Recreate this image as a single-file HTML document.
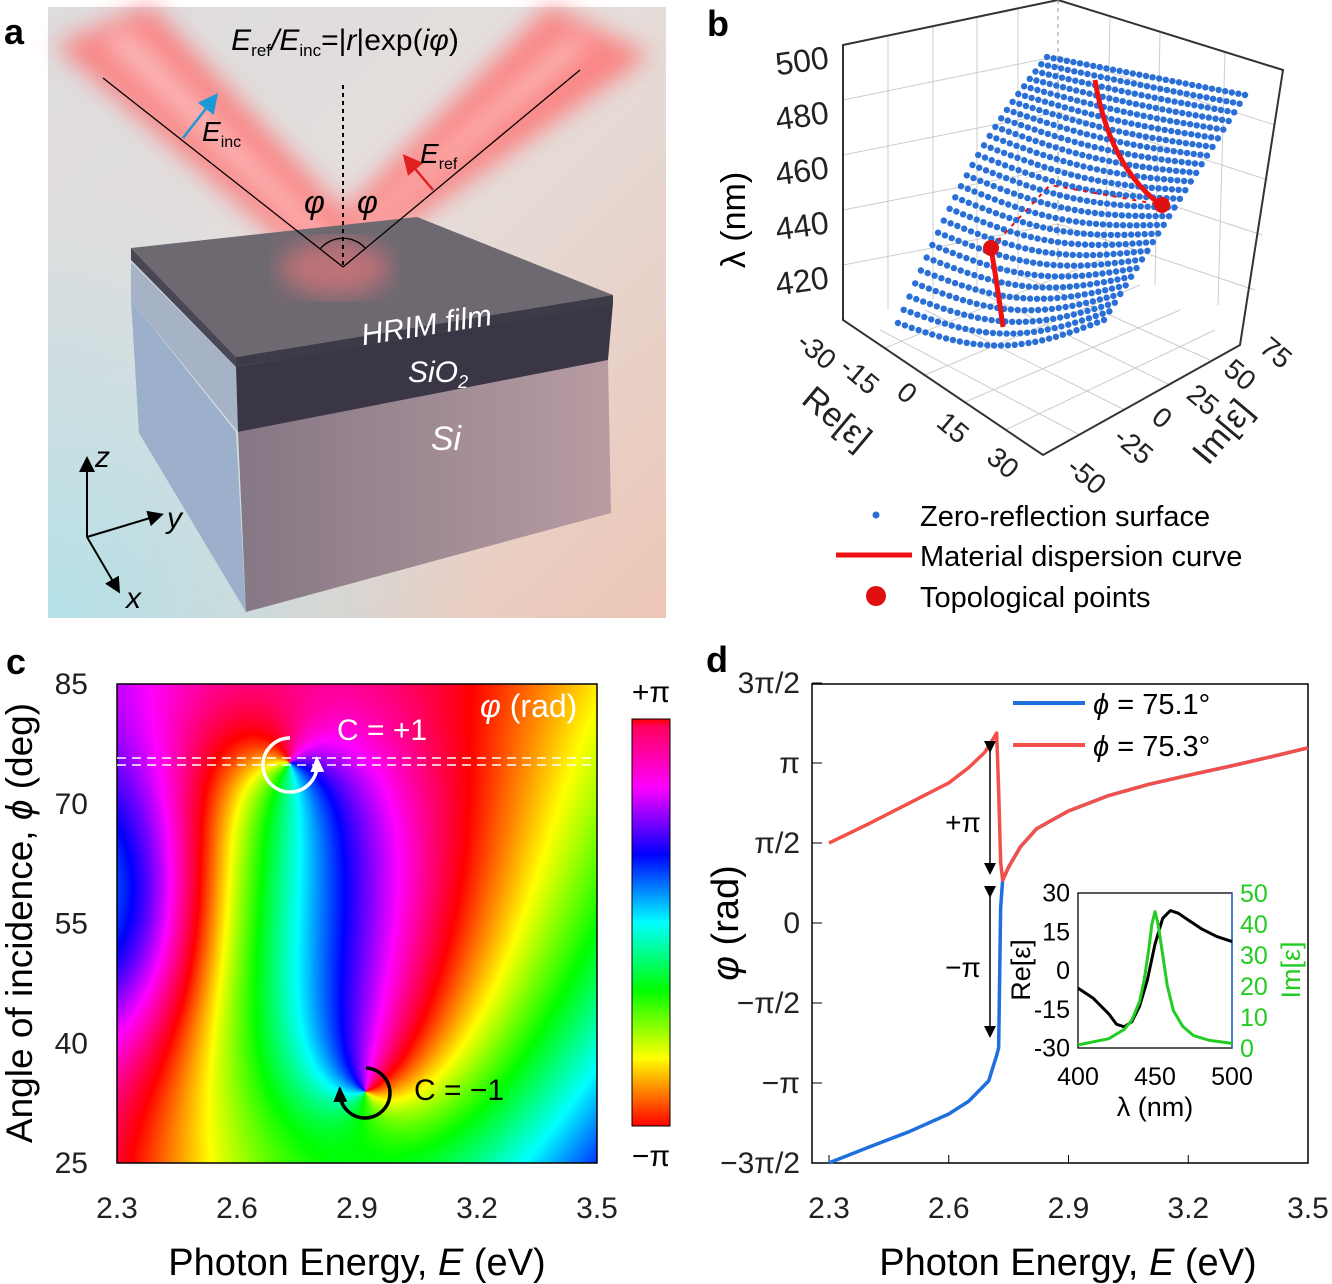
<!DOCTYPE html>
<html><head><meta charset="utf-8">
<style>
body{margin:0;background:#fff;}
#wrap{position:relative;width:1332px;height:1284px;overflow:hidden;font-family:"Liberation Sans",sans-serif;}
svg{position:absolute;left:0;top:0;}
#heat{position:absolute;left:117px;top:684px;}
</style></head><body>
<div id="wrap">
<canvas id="heat" width="480" height="479"></canvas>
<svg id="main" width="1332" height="1284" xmlns="http://www.w3.org/2000/svg">
<defs>
 <linearGradient id="bgA" x1="0" y1="0" x2="1" y2="1">
  <stop offset="0" stop-color="#dedcde"/><stop offset="0.45" stop-color="#e4dedc"/><stop offset="1" stop-color="#ecc6b6"/>
 </linearGradient>
 <radialGradient id="bgL" cx="0" cy="1" r="0.7"><stop offset="0" stop-color="#b4e0e8"/><stop offset="1" stop-color="#b4e0e8" stop-opacity="0"/></radialGradient>
 <filter id="blur"><feGaussianBlur stdDeviation="12"/></filter>
 <linearGradient id="cbar" x1="0" y1="0" x2="0" y2="1">
  <stop offset="0" stop-color="#ff0000"/><stop offset="0.02" stop-color="#ff0060"/><stop offset="0.167" stop-color="#ff00ff"/><stop offset="0.333" stop-color="#0000ff"/><stop offset="0.5" stop-color="#00ffff"/><stop offset="0.667" stop-color="#00ff00"/><stop offset="0.833" stop-color="#ffff00"/><stop offset="1" stop-color="#ff0000"/>
 </linearGradient>
 <linearGradient id="siF" x1="0" y1="0" x2="1" y2="0"><stop offset="0" stop-color="#857784"/><stop offset="1" stop-color="#b89ca2"/></linearGradient>
 <marker id="ah" markerWidth="8" markerHeight="8" refX="6" refY="4" orient="auto"><path d="M0,0 L8,4 L0,8 z" fill="#000"/></marker>
 <marker id="ahb" markerWidth="8" markerHeight="8" refX="6" refY="4" orient="auto"><path d="M0,0 L8,4 L0,8 z" fill="#1a9ad6"/></marker>
 <marker id="ahr" markerWidth="8" markerHeight="8" refX="6" refY="4" orient="auto"><path d="M0,0 L8,4 L0,8 z" fill="#e02020"/></marker>
 <marker id="ahk" markerUnits="userSpaceOnUse" markerWidth="16" markerHeight="16" refX="8" refY="8" orient="auto"><path d="M0,1 L16,8 L0,15 z" fill="#000"/></marker>
 <marker id="ahw" markerUnits="userSpaceOnUse" markerWidth="16" markerHeight="16" refX="8" refY="8" orient="auto"><path d="M0,1 L16,8 L0,15 z" fill="#fff"/></marker>
</defs>

<!-- Panel a -->
<g>
 <rect x="48" y="7" width="618" height="611" fill="url(#bgA)"/>
 <rect x="48" y="7" width="618" height="611" fill="url(#bgL)"/>
 <g filter="url(#blur)" opacity="0.8">
  <path d="M55,45 L150,5 L365,235 L325,278 Z" fill="#ff6e6e"/>
  <path d="M330,278 L318,238 L550,5 L650,55 Z" fill="#ff6e6e"/>
 </g>
 <g filter="url(#blur)" opacity="0.45">
  <path d="M100,40 L130,30 L345,250 L335,262 Z" fill="#fff"/>
  <path d="M345,250 L340,240 L570,35 L590,45 Z" fill="#fff"/>
 </g>
 <polygon points="131,300 236,432 246,612 139,433" fill="#9cb0cc"/>
 <polygon points="131,262 236,367 238,432 131,300" fill="#a6b2c6"/>
 <polygon points="238,432 608,360 611,513 246,612" fill="url(#siF)"/>
 <polygon points="236,367 613,303 608,360 238,432" fill="#3a3646"/>
 <polygon points="131,248 417,217 613,295 236,357" fill="#6e6870"/>
 <polygon points="131,248 236,357 236,367 131,260" fill="#4a4754"/>
 <polygon points="236,357 613,295 613,305 236,367" fill="#3e3b48"/>
 <ellipse cx="335" cy="268" rx="55" ry="28" fill="#ff7a80" opacity="0.55" filter="url(#blur)"/>
 <line x1="103" y1="78" x2="343" y2="267" stroke="#000" stroke-width="1.3"/>
 <line x1="343" y1="267" x2="580" y2="70" stroke="#000" stroke-width="1.3"/>
 <line x1="343" y1="85" x2="343" y2="267" stroke="#000" stroke-width="2" stroke-dasharray="4,4"/>
 <path d="M320,249 A30,30 0 0 1 366,249" fill="none" stroke="#000" stroke-width="1.3"/>
 <line x1="183" y1="138" x2="215" y2="97" stroke="#1a9ad6" stroke-width="2.5" marker-end="url(#ahb)"/>
 <line x1="433" y1="190" x2="406" y2="158" stroke="#e02020" stroke-width="2.5" marker-end="url(#ahr)"/>
 <text x="345" y="50" font-size="30" text-anchor="middle" font-style="italic">E<tspan font-size="17" font-style="normal" dy="6">ref</tspan><tspan dy="-6">/E</tspan><tspan font-size="17" font-style="normal" dy="6">inc</tspan><tspan dy="-6" font-style="normal">=|</tspan>r<tspan font-style="normal">|exp(</tspan>iφ<tspan font-style="normal">)</tspan></text>
 <text x="202" y="141" font-size="28" font-style="italic">E<tspan font-size="16" font-style="normal" dy="6">inc</tspan></text>
 <text x="420" y="163" font-size="28" font-style="italic">E<tspan font-size="16" font-style="normal" dy="6">ref</tspan></text>
 <text x="304" y="213" font-size="32" font-style="italic">φ</text>
 <text x="357" y="213" font-size="32" font-style="italic">φ</text>
 <text x="428" y="335" font-size="30" fill="#fff" font-style="italic" text-anchor="middle" transform="rotate(-9 428 335)">HRIM film</text>
 <text x="438" y="382" font-size="30" fill="#fff" font-style="italic" text-anchor="middle">SiO<tspan font-size="18" dy="6">2</tspan></text>
 <text x="446" y="450" font-size="34" fill="#fff" font-style="italic" text-anchor="middle">Si</text>
 <line x1="87" y1="537" x2="87" y2="460" stroke="#000" stroke-width="2" marker-end="url(#ah)"/>
 <line x1="87" y1="537" x2="160" y2="515" stroke="#000" stroke-width="2" marker-end="url(#ah)"/>
 <line x1="87" y1="537" x2="118" y2="590" stroke="#000" stroke-width="2" marker-end="url(#ah)"/>
 <text x="95" y="467" font-size="30" font-style="italic">z</text>
 <text x="167" y="528" font-size="30" font-style="italic">y</text>
 <text x="126" y="608" font-size="30" font-style="italic">x</text>
 <text x="4" y="44" font-size="36" font-weight="bold">a</text>
</g>

<!-- Panel b -->
<g id="pb">
 <text x="707" y="36" font-size="36" font-weight="bold">b</text>
 <g stroke="#ccc" stroke-width="1" fill="none">
  <path d="M843,100 L1058,56 M843,155 L1058,112 M843,210 L1058,168 M843,265 L1058,224"/>
  <path d="M888,36 L888,310 M933,27 L933,300 M977,18 L977,290 M1018,9 L1018,280"/>
  <path d="M1058,56 L1275,125 M1058,112 L1268,180 M1058,168 L1262,235 M1058,224 L1255,290"/>
  <path d="M1110,17 L1105,270 M1160,33 L1155,285 M1225,52 L1218,305"/>
  <path d="M885,348 L1100,260 M925,375 L1140,285 M965,402 L1180,310 M1005,430 L1215,330"/>
  <path d="M1080,435 L880,330 M1125,410 L925,310 M1170,385 L975,290 M1210,360 L1020,275"/>
 </g>
 <g stroke="#333" stroke-width="2" fill="none">
  <path d="M843,45 L1058,0 L1283,70 L1240,345 L1043,455 L843,320 Z"/>
  <path d="M843,45 L843,320"/>
  <path d="M1058,0 L1058,270" stroke="#999" stroke-width="1" stroke-dasharray="4,4"/>
 </g>
 <g id="dots"></g>
 <path d="M991,248 Q998,290 1003,327" stroke="#ee1111" stroke-width="5" fill="none"/>
 <path d="M1095,80 Q1110,170 1165,208" stroke="#ee1111" stroke-width="5" fill="none"/>
 <path d="M991,248 L1050,185 L1162,205" stroke="#ee1111" stroke-width="2" fill="none" stroke-dasharray="4,6"/>
 <circle cx="991" cy="248" r="8" fill="#e01010"/>
 <circle cx="1162" cy="205" r="8" fill="#e01010"/>
 <g font-size="32" fill="#222">
  <text x="830" y="68" text-anchor="end" transform="rotate(-8 830 68)">500</text>
  <text x="830" y="123" text-anchor="end" transform="rotate(-8 830 123)">480</text>
  <text x="830" y="178" text-anchor="end" transform="rotate(-8 830 178)">460</text>
  <text x="830" y="233" text-anchor="end" transform="rotate(-8 830 233)">440</text>
  <text x="830" y="288" text-anchor="end" transform="rotate(-8 830 288)">420</text>
 </g>
 <text x="745" y="220" font-size="34" text-anchor="middle" transform="rotate(-90 745 220)">λ (nm)</text>
 <g font-size="28" fill="#222">
  <text x="795" y="345" transform="rotate(40 795 345)">-30</text>
  <text x="838" y="370" transform="rotate(40 838 370)">-15</text>
  <text x="895" y="395" transform="rotate(40 895 395)">0</text>
  <text x="935" y="425" transform="rotate(40 935 425)">15</text>
  <text x="985" y="460" transform="rotate(40 985 460)">30</text>
  <text x="800" y="402" font-size="34" transform="rotate(40 800 402)">Re[ε]</text>
  <text x="1065" y="470" transform="rotate(40 1065 470)">-50</text>
  <text x="1112" y="440" transform="rotate(40 1112 440)">-25</text>
  <text x="1150" y="420" transform="rotate(40 1150 420)">0</text>
  <text x="1185" y="397" transform="rotate(40 1185 397)">25</text>
  <text x="1222" y="372" transform="rotate(40 1222 372)">50</text>
  <text x="1258" y="350" transform="rotate(40 1258 350)">75</text>
  <text x="1205" y="440" font-size="34" transform="rotate(-50 1235 450)">Im[ε]</text>
 </g>
 <g font-size="29">
  <circle cx="876" cy="515" r="3.5" fill="#2a6fd6"/>
  <text x="920" y="526">Zero-reflection surface</text>
  <line x1="836" y1="555" x2="912" y2="555" stroke="#ee1111" stroke-width="5"/>
  <text x="920" y="566">Material dispersion curve</text>
  <circle cx="876" cy="596" r="10" fill="#e01010"/>
  <text x="920" y="607">Topological points</text>
 </g>
</g>

<!-- Panel c -->
<g>
 <text x="6" y="674" font-size="36" font-weight="bold">c</text>
 <rect x="117" y="684" width="480" height="479" fill="none" stroke="#000" stroke-width="1.5"/>
 <line x1="117" y1="758" x2="597" y2="758" stroke="#fff" stroke-width="1.5" stroke-dasharray="9,6"/>
 <line x1="117" y1="765" x2="597" y2="765" stroke="#fff" stroke-width="1.5" stroke-dasharray="9,6"/>
 <path d="M290,738 A27,27 0 1 0 317,764" fill="none" stroke="#fff" stroke-width="3.5" marker-end="url(#ahw)"/>
 <path d="M366,1068 A25,25 0 1 1 340,1094" fill="none" stroke="#000" stroke-width="3.5" marker-end="url(#ahk)"/>
 <text x="337" y="740" font-size="30" fill="#fff">C = +1</text>
 <text x="414" y="1100" font-size="30" fill="#000">C = −1</text>
 <text x="480" y="717" font-size="32" fill="#fff"><tspan font-style="italic">φ</tspan> (rad)</text>
 <g id="cticks" font-size="30" fill="#222"></g>
 <text x="357" y="1275" font-size="38" text-anchor="middle">Photon Energy, <tspan font-style="italic">E</tspan> (eV)</text>
 <text x="32" y="923" font-size="37" text-anchor="middle" transform="rotate(-90 32 923)">Angle of incidence, <tspan font-style="italic">ϕ</tspan> (deg)</text>
 <rect x="632" y="719" width="38" height="407" fill="url(#cbar)" stroke="#000" stroke-width="1"/>
 <text x="651" y="702" font-size="30" text-anchor="middle">+π</text>
 <text x="651" y="1166" font-size="30" text-anchor="middle">−π</text>
</g>

<!-- Panel d -->
<g id="pd">
 <text x="706" y="672" font-size="36" font-weight="bold">d</text>
 <rect x="812" y="684" width="496" height="479" fill="none" stroke="#000" stroke-width="1.5"/>
 <g id="dticks" font-size="30" fill="#222"></g>
 <g id="dlines"></g>
 <line x1="1013" y1="703" x2="1085" y2="703" stroke="#1f6fdc" stroke-width="4"/>
 <text x="1093" y="714" font-size="29"><tspan font-style="italic">ϕ</tspan> = 75.1°</text>
 <line x1="1013" y1="745" x2="1085" y2="745" stroke="#f2504a" stroke-width="4"/>
 <text x="1093" y="756" font-size="29"><tspan font-style="italic">ϕ</tspan> = 75.3°</text>
 <line x1="990" y1="750" x2="990" y2="872" stroke="#000" stroke-width="1.5" marker-start="url(#ah)" marker-end="url(#ah)"/>
 <line x1="990" y1="895" x2="990" y2="1035" stroke="#000" stroke-width="1.5" marker-start="url(#ah)" marker-end="url(#ah)"/>
 <text x="963" y="832" font-size="28" text-anchor="middle">+π</text>
 <text x="963" y="977" font-size="28" text-anchor="middle">−π</text>
 <text x="1068" y="1275" font-size="38" text-anchor="middle">Photon Energy, <tspan font-style="italic">E</tspan> (eV)</text>
 <text x="738" y="923" font-size="38" text-anchor="middle" transform="rotate(-90 738 923)"><tspan font-style="italic">φ</tspan> (rad)</text>
 <g id="inset"></g>
</g>
</svg>
</div>
<script>
// ---------- Panel c data ----------
const cEnergyTicks = [2.3, 2.6, 2.9, 3.2, 3.5];
const cAngleTicks = [25, 40, 55, 70, 85];
const vortexPlus = [2.73, 75.2];   // C = +1 (E, angle)
const vortexMinus = [2.92, 34];    // C = -1
// ---------- Panel d data ----------
const dEnergyTicks = [2.3, 2.6, 2.9, 3.2, 3.5];
const dPhaseTickLabels = ["3π/2","π","π/2","0","−π/2","−π","−3π/2"];
const dPhaseTickValues = [4.712, 3.1416, 1.5708, 0, -1.5708, -3.1416, -4.712];
const redE = [2.3, 2.4, 2.5, 2.6, 2.65, 2.69, 2.71, 2.72, 2.725, 2.73, 2.735, 2.75, 2.78, 2.82, 2.9, 3.0, 3.1, 3.2, 3.3, 3.4, 3.5];
const redPhase = [1.57, 1.95, 2.35, 2.75, 3.05, 3.35, 3.6, 3.73, 2.6, 1.2, 0.84, 1.1, 1.5, 1.85, 2.2, 2.5, 2.72, 2.9, 3.07, 3.25, 3.44];
const blueE = [2.3, 2.4, 2.5, 2.6, 2.65, 2.7, 2.72, 2.725, 2.73, 2.735, 2.75, 2.78, 2.82, 2.9, 3.0, 3.1, 3.2, 3.3, 3.4, 3.5];
const bluePhase = [-4.71, -4.4, -4.1, -3.75, -3.5, -3.1, -2.6, -2.45, 0.3, 0.84, 1.1, 1.5, 1.85, 2.2, 2.5, 2.72, 2.9, 3.07, 3.25, 3.44];
// ---------- Inset data ----------
const insetLambda = [400, 405, 410, 415, 420, 425, 430, 435, 440, 445, 450, 455, 460, 465, 470, 480, 490, 500];
const insetRe = [-7, -9, -11, -14, -17, -21, -22, -20, -14, -4, 10, 20, 23, 22, 20, 16, 13, 11];
const insetImLambda = [400, 410, 420, 430, 435, 440, 443, 446, 448, 450, 452, 455, 458, 462, 468, 475, 485, 500];
const insetIm = [1, 2, 3, 6, 9, 15, 22, 32, 40, 44, 40, 30, 20, 12, 7, 4, 2.5, 1.5];

const NS = "http://www.w3.org/2000/svg";
function mk(tag, attrs, parent){const e=document.createElementNS(NS,tag);for(const k in attrs)e.setAttribute(k,attrs[k]);parent.appendChild(e);return e;}

// heatmap
(function(){
 const cx = E => (E-2.3)/1.2*480;
 const cy = a => (85-a)/60*479;
 const cv = document.getElementById('heat'), ctx = cv.getContext('2d');
 const img = ctx.createImageData(480,479);
 const p1x=cx(vortexPlus[0]), p1Y=-cy(vortexPlus[1]), p2x=cx(vortexMinus[0]), p2Y=-cy(vortexMinus[1]);
 function hsv(h){h=((h%360)+360)%360;const x=1-Math.abs((h/60)%2-1);let r,g,b;
  if(h<60){r=1;g=x;b=0}else if(h<120){r=x;g=1;b=0}else if(h<180){r=0;g=1;b=x}else if(h<240){r=0;g=x;b=1}else if(h<300){r=x;g=0;b=1}else{r=1;g=0;b=x}
  return [r*255,g*255,b*255];}
 const P=Math.PI;
 for(let y=0;y<479;y++)for(let x=0;x<480;x++){
  const Y=-y;
  const u=x/480, v=(479-y)/479;
  const t1=Math.atan2(Y-p1Y,x-p1x), t2=Math.atan2(Y-p2Y,x-p2x);
  const bump = -0.78*P*Math.exp(-Math.pow(x/105,2))*Math.exp(-Math.pow((Y+220)/160,2));
  const corr = P*(u*(1-v)*0.4 + (1-u)*v*0.4 + u*v*0.1);
  let ph = t1 - t2 + P*(0.12 + 0.0028*x - 0.00125*Y) + bump + corr;
  const c=hsv((ph+P)/(2*P)*360);
  const i=(y*480+x)*4; img.data[i]=c[0];img.data[i+1]=c[1];img.data[i+2]=c[2];img.data[i+3]=255;}
 ctx.putImageData(img,0,0);
 const g=document.getElementById('cticks');
 cEnergyTicks.forEach(E=>{const t=mk('text',{x:117+cx(E),y:1218,'text-anchor':'middle'},g);t.textContent=E.toFixed(1);
  
  });
 cAngleTicks.forEach(a=>{const t=mk('text',{x:88,y:684+cy(a)+10,'text-anchor':'end'},g);t.textContent=a;
  
  });
})();

// panel d
(function(){
 const X = E => 829 + (E-2.3)/1.2*479;
 const Y = p => 923 - p/(Math.PI/2)*80;
 const g=document.getElementById('dticks');
 dEnergyTicks.forEach(E=>{const t=mk('text',{x:X(E),y:1218,'text-anchor':'middle'},g);t.textContent=E.toFixed(1);
  
  
  mk('line',{x1:X(E),y1:1163,x2:X(E),y2:1155,stroke:'#000'},g);});
 dPhaseTickValues.forEach((v,i)=>{const t=mk('text',{x:800,y:Y(v)+10,'text-anchor':'end'},g);t.textContent=dPhaseTickLabels[i];
  
  
  mk('line',{x1:812,y1:Y(v),x2:822,y2:Y(v),stroke:'#000'},g);});
 const L=document.getElementById('dlines');
 const b=mk('polyline',{points:blueE.map((e,i)=>X(e)+','+Y(bluePhase[i])).join(' '),fill:'none',stroke:'#1f6fdc','stroke-width':3.5,'stroke-linejoin':'round'},L);
 
 
 const r=mk('polyline',{points:redE.map((e,i)=>X(e)+','+Y(redPhase[i])).join(' '),fill:'none',stroke:'#f2504a','stroke-width':3.5,'stroke-linejoin':'round'},L);
 
 

 // inset
 const I=document.getElementById('inset');
 const ix = l => 1078 + (l-400)/100*154;
 const iyR = v => 970 - v/30*77.5;
 const iyI = v => 1048 - v/50*155;
 mk('rect',{x:1078,y:893,width:154,height:155,fill:'#fff',stroke:'#000','stroke-width':1.3},I);
 mk('line',{x1:1232,y1:893,x2:1232,y2:1048,stroke:'#1f6fdc','stroke-width':1.5},I);
 [30,15,0,-15,-30].forEach(v=>{const t=mk('text',{x:1070,y:iyR(v)+9,'text-anchor':'end','font-size':25},I);t.textContent=v;});
 [50,40,30,20,10,0].forEach(v=>{const t=mk('text',{x:1240,y:iyI(v)+9,'font-size':25,fill:'#22cc22'},I);t.textContent=v;});
 [400,450,500].forEach(v=>{const t=mk('text',{x:ix(v),y:1085,'text-anchor':'middle','font-size':25},I);t.textContent=v;});
 const tl=mk('text',{x:1155,y:1116,'text-anchor':'middle','font-size':27},I);tl.textContent='λ (nm)';
 const tr=mk('text',{x:1030,y:970,'text-anchor':'middle','font-size':27,transform:'rotate(-90 1030 970)'},I);tr.textContent='Re[ε]';
 const ti=mk('text',{x:1300,y:970,'text-anchor':'middle','font-size':27,fill:'#22cc22',transform:'rotate(-90 1300 970)'},I);ti.textContent='Im[ε]';
 const re=mk('polyline',{points:insetLambda.map((l,i)=>ix(l)+','+iyR(insetRe[i])).join(' '),fill:'none',stroke:'#000','stroke-width':3,'stroke-linejoin':'round'},I);
 
 
 const im=mk('polyline',{points:insetImLambda.map((l,i)=>ix(l)+','+iyI(insetIm[i])).join(' '),fill:'none',stroke:'#22cc22','stroke-width':3,'stroke-linejoin':'round'},I);
 
 
})();

// panel b dots (surface sheet)
(function(){
 const D=document.getElementById('dots');
 const A=[898,323], B=[1104,320], C=[1245,95], Dt=[1047,57];
 const N=30, M=26;
 for(let i=0;i<=N;i++)for(let j=0;j<=M;j++){
  const u=i/N, v=j/M;
  let x=(1-u)*(1-v)*A[0]+u*(1-v)*B[0]+u*v*C[0]+(1-u)*v*Dt[0];
  let y=(1-u)*(1-v)*A[1]+u*(1-v)*B[1]+u*v*C[1]+(1-u)*v*Dt[1];
  y += 40*Math.sin(Math.PI*u)*(1-v)*0.6 - 25*Math.sin(Math.PI*v)*(1-u);
  mk('circle',{cx:x.toFixed(1),cy:y.toFixed(1),r:3.2,fill:'#2a6fd6'},D);
 }
})();
</script>
</body></html>
